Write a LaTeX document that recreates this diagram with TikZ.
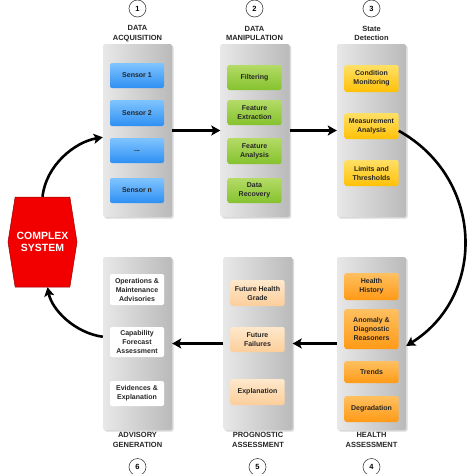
\documentclass[tikz,border=0pt]{standalone}
\usepackage{fontspec}
\setmainfont{Liberation Sans}
\usetikzlibrary{arrows.meta,shadows,shapes.symbols}

\definecolor{sensorTop}{HTML}{80C4FF}
\definecolor{sensorFill}{HTML}{2E90F2}
\definecolor{filterTop}{HTML}{B4DB66}
\definecolor{filterFill}{HTML}{85C22E}
\definecolor{detectTop}{HTML}{FFE066}
\definecolor{detectFill}{HTML}{FFC107}
\definecolor{healthTop}{HTML}{FFC060}
\definecolor{healthFill}{HTML}{FF9A16}
\definecolor{progTop}{HTML}{FEE8CC}
\definecolor{progFill}{HTML}{FCCE9A}
\definecolor{sysRed}{HTML}{F20000}

\tikzset{
  panel/.style={rectangle,rounded corners=2pt,minimum width=69pt,minimum height=173pt,
    left color=black!9,right color=black!27,
    drop shadow={shadow xshift=1.5pt,shadow yshift=-1.5pt,opacity=0.3}},
  stage/.style={circle,draw=black!75,line width=0.6pt,minimum size=17pt,inner sep=0pt,
    font=\bfseries\fontsize{7.5}{8}\selectfont},
  title/.style={align=center,font=\bfseries\fontsize{7.5}{9.5}\selectfont,text=black!85},
  sensor/.style={top color=sensorTop,bottom color=sensorFill},
  filter/.style={top color=filterTop,bottom color=filterFill},
  detect/.style={top color=detectTop,bottom color=detectFill},
  health/.style={top color=healthTop,bottom color=healthFill},
  prog/.style={top color=progTop,bottom color=progFill},
  advice/.style={fill=white},
}

\begin{document}
\begin{tikzpicture}[x=1pt,y=-1pt]
\useasboundingbox (0,0) rectangle (474,474);

% columns
\node[panel] (acq) at (137.5,130.5) {};
\node[panel] (man) at (255,130.5) {};
\node[panel] (det) at (371.5,130.5) {};
\node[panel] (hea) at (371.5,343.5) {};
\node[panel] (pro) at (258,343.5) {};
\node[panel] (adv) at (137.5,343.5) {};

% numbers and titles
\node[stage] (n1) at (137.5,8.5) {1};
\node[stage] (n2) at (254.5,8.5) {2};
\node[stage] (n3) at (371.5,8.5) {3};
\node[stage] (n4) at (371.5,467) {4};
\node[stage] (n5) at (257.5,467) {5};
\node[stage] (n6) at (137.5,467) {6};
\node[title] (t1) at (137.5,33.5) {DATA\\ACQUISITION};
\node[title] (t2) at (254.5,33.5) {DATA\\MANIPULATION};
\node[title] (t3) at (371.5,33.5) {State\\Detection};
\node[title] (t4) at (371.5,440) {HEALTH\\ASSESSMENT};
\node[title] (t5) at (258,440) {PROGNOSTIC\\ASSESSMENT};
\node[title] (t6) at (137.5,440) {ADVISORY\\GENERATION};

% complex system
\node[signal,signal to=east and west,signal pointer angle=162,fill=sysRed,draw=red!60!black,
      line width=0.5pt,minimum width=69pt,minimum height=90pt,inner sep=1pt,align=center,
      text=white,font=\bfseries\fontsize{10.5}{12}\selectfont] (cs) at (42.5,242) {COMPLEX\\SYSTEM};

% boxes
\begin{scope}[every node/.style={rectangle,rounded corners=2pt,minimum width=54pt,inner sep=1pt,
    align=center,text=black!85,font=\bfseries\fontsize{7}{9}\selectfont}]
  \node[sensor,minimum height=25pt] (s1) at (137,75.5) {Sensor 1};
  \node[sensor,minimum height=26pt] (s2) at (137,113) {Sensor 2};
  \node[sensor,minimum height=25pt] (s3) at (137,150.5) {...};
  \node[sensor,minimum height=25pt] (sn) at (137,190.5) {Sensor n};

  \node[filter,minimum height=25pt] (fil) at (254.5,77.5) {Filtering};
  \node[filter,minimum height=25pt] (fex) at (254.5,112.5) {Feature\\Extraction};
  \node[filter,minimum height=26pt] (fan) at (254.5,151) {Feature\\Analysis};
  \node[filter,minimum height=25pt] (rec) at (254.5,190.5) {Data\\Recovery};

  \node[detect,minimum height=27pt] (cmo) at (371.5,78.5) {Condition\\Monitoring};
  \node[detect,minimum height=26pt] (mea) at (371.5,126) {Measurement\\Analysis};
  \node[detect,minimum height=26pt] (lim) at (371.5,173) {Limits and\\Thresholds};

  \node[health,minimum height=27pt] (his) at (371.5,286.5) {Health\\History};
  \node[health,minimum height=40pt] (ano) at (371.5,329) {Anomaly \&\\Diagnostic\\Reasoners};
  \node[health,minimum height=22pt] (tre) at (371.5,372) {Trends};
  \node[health,minimum height=26pt] (deg) at (371.5,409) {Degradation};

  \node[prog,minimum height=26pt] (fhg) at (257.5,293) {Future Health\\Grade};
  \node[prog,minimum height=25pt] (ffa) at (257.5,339.5) {Future\\Failures};
  \node[prog,minimum height=26pt] (exp) at (257.5,392) {Explanation};

  \node[advice,minimum height=31pt] (ope) at (137,289.5) {Operations \&\\Maintenance\\Advisories};
  \node[advice,minimum height=30pt] (cap) at (137,342) {Capability\\Forecast\\Assessment};
  \node[advice,minimum height=25pt] (evi) at (137,393.5) {Evidences \&\\Explanation};
\end{scope}

% flow
\begin{scope}[every edge/.style={draw=black,line width=2.6pt,-{Stealth[length=9pt,width=10pt,inset=2pt]}}]
  \draw (acq) edge (man);
  \draw (man) edge (det);
  \draw (hea) edge (pro);
  \draw (pro) edge (adv);
  \draw (cs.north) edge[to path={.. controls (46,165) and (75,142) .. (\tikztotarget)}] (acq.191);
  \draw (mea.-10) edge[to path={.. controls (484.5,178.5) and (486.4,296) .. (\tikztotarget)}] (hea.-4);
  \draw (adv.169) edge[to path={.. controls (75,333) and (52,310) .. (\tikztotarget)}] ([xshift=5pt]cs.south);
\end{scope}
\end{tikzpicture}
\end{document}
